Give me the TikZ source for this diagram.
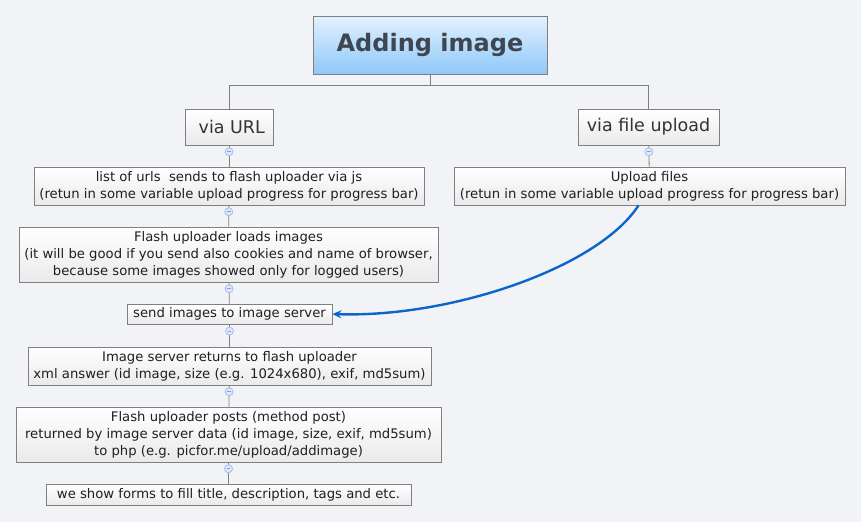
\documentclass[tikz,border=0pt]{standalone}
\usepackage{fontspec}
\setmainfont{DejaVu Sans}
\usetikzlibrary{arrows.meta}
\definecolor{bgcol}{HTML}{F2F3F7}
\definecolor{boxline}{HTML}{808080}
\definecolor{boxbot}{HTML}{EAEAEA}
\definecolor{titletop}{HTML}{E2F1FF}
\definecolor{titlebot}{HTML}{8FC8F8}
\definecolor{titletext}{HTML}{3E4751}
\definecolor{knobline}{HTML}{A9BDE8}
\definecolor{knobfill}{HTML}{DFE7FB}
\definecolor{linkcol}{HTML}{0A66C8}
\tikzset{
  box/.style={draw=boxline, top color=white, bottom color=boxbot, inner sep=0pt,
    align=center, text=black!88, font=\fontsize{13.2}{17}\selectfont},
  branch/.style={box, text=black!80, font=\fontsize{17.5}{20}\selectfont},
  knob/.style={circle, draw=knobline, fill=knobfill, inner sep=0pt, minimum size=8pt,
    path picture={\draw[knobline!80!blue, line width=0.6pt]
      ([xshift=-1.8pt]path picture bounding box.center) -- ([xshift=1.8pt]path picture bounding box.center);}},
  link/.style={draw=linkcol, line width=2.4pt, -{Stealth[length=9pt,width=8pt]}}
}
\begin{document}
\begin{tikzpicture}[x=1pt, y=-1pt, line width=0.8pt, draw=boxline]
  \fill[bgcol] (0,0) rectangle (861,522);
  \node[draw=boxline, top color=titletop, bottom color=titlebot, minimum width=234pt, minimum height=58pt,
    text=titletext, font=\bfseries\fontsize{24}{28}\selectfont] (title) at (430,45) {Adding image};
  \coordinate (fork) at (430,85);
  \node[branch, minimum width=88pt, minimum height=36pt] (url) at (229,127) {\ via URL};
  \node[branch, minimum width=141pt, minimum height=36pt] (file) at (648.5,127) {via file upload};
  \node[box, minimum width=390pt, minimum height=38pt] (urls) at (229,186)
    {list of urls\ \ sends to flash uploader via js\\ (retun in some variable upload progress for progress bar)};
  \node[box, minimum width=419pt, minimum height=55pt] (loads) at (228.5,254.5)
    {Flash uploader loads images\\(it will be good if you send also cookies and name of browser,\\because some images showed only for logged users)};
  \node[box, minimum width=205pt, minimum height=20pt] (send) at (229.5,314) {send images to image server};
  \node[box, minimum width=403pt, minimum height=38pt] (returns) at (229.5,366)
    {Image server returns to flash uploader\\xml answer (id image, size (e.g. 1024x680), exif, md5sum)};
  \node[box, minimum width=425pt, minimum height=55pt] (posts) at (228.5,434.5)
    {Flash uploader posts (method post)\\returned by image server data (id image, size, exif, md5sum)\\to php (e.g. picfor.me/upload/addimage)};
  \node[box, minimum width=365pt, minimum height=21pt] (forms) at (228.5,494.5)
    {we show forms to fill title, description, tags and etc.};
  \node[box, minimum width=391pt, minimum height=38pt] (upload) at (649.5,186)
    {Upload files\\ (retun in some variable upload progress for progress bar)};
  \draw (title) -- (fork);
  \draw (fork) -| (url);
  \draw (fork) -| (file);
  \foreach \a/\b in {url/urls, urls/loads, loads/send, send/returns, returns/posts, posts/forms, file/upload}
    \draw (\a) -- node[knob, pos=0.3] {} (\b);
  \draw[link] ([xshift=-11pt]upload.south) .. controls (598,268) and (450,318) .. (send.east);
\end{tikzpicture}
\end{document}
